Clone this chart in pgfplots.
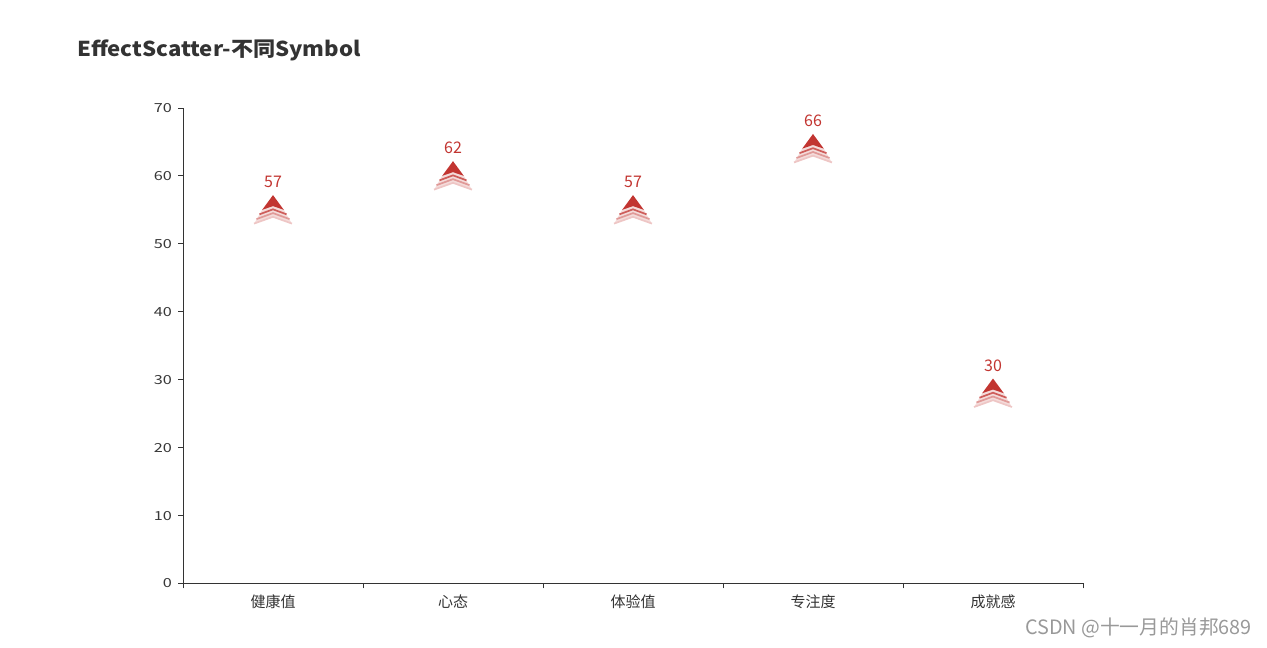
\documentclass[border=0pt]{standalone}
\usepackage{fontspec}
\setmainfont{Noto Sans CJK SC}
\newfontfamily\tickfont[FakeStretch=1.3]{Noto Sans CJK SC}
\newfontfamily\titlefont[FakeStretch=1.08]{Noto Sans CJK SC}
\usepackage{pgfplots}
\pgfplotsset{compat=1.18}
\definecolor{ecred}{HTML}{C23531}
\definecolor{axisgray}{HTML}{333333}

\pgfdeclareplotmark{echarrow}{%
  \pgfsetfillcolor{ecred!18}%
  \pgfpathmoveto{\pgfqpoint{-10.5pt}{-13pt}}%
  \pgfpathlineto{\pgfqpoint{0pt}{-9.5pt}}%
  \pgfpathlineto{\pgfqpoint{10.5pt}{-13pt}}%
  \pgfpathlineto{\pgfqpoint{19pt}{-27.5pt}}%
  \pgfpathlineto{\pgfqpoint{0pt}{-20.5pt}}%
  \pgfpathlineto{\pgfqpoint{-19pt}{-27.5pt}}%
  \pgfpathclose
  \pgfusepath{fill}%
  \pgfsetlinewidth{1.7pt}%
  \pgfsetmiterjoin
  \pgfsetstrokecolor{ecred!28}%
  \pgfpathmoveto{\pgfqpoint{-19pt}{-27.3pt}}%
  \pgfpathlineto{\pgfqpoint{0pt}{-20.5pt}}%
  \pgfpathlineto{\pgfqpoint{19pt}{-27.3pt}}%
  \pgfusepath{stroke}%
  \pgfsetstrokecolor{ecred!50}%
  \pgfpathmoveto{\pgfqpoint{-16.5pt}{-22.8pt}}%
  \pgfpathlineto{\pgfqpoint{0pt}{-16.8pt}}%
  \pgfpathlineto{\pgfqpoint{16.5pt}{-22.8pt}}%
  \pgfusepath{stroke}%
  \pgfsetstrokecolor{ecred!80}%
  \pgfpathmoveto{\pgfqpoint{-13.5pt}{-18pt}}%
  \pgfpathlineto{\pgfqpoint{0pt}{-13pt}}%
  \pgfpathlineto{\pgfqpoint{13.5pt}{-18pt}}%
  \pgfusepath{stroke}%
  \pgfsetfillcolor{ecred}%
  \pgfpathmoveto{\pgfqpoint{0pt}{1.2pt}}%
  \pgfpathlineto{\pgfqpoint{10.8pt}{-13.5pt}}%
  \pgfpathlineto{\pgfqpoint{0pt}{-9.8pt}}%
  \pgfpathlineto{\pgfqpoint{-10.8pt}{-13.5pt}}%
  \pgfpathclose
  \pgfusepath{fill}%
}

\begin{document}
\begin{tikzpicture}
\path[use as bounding box] (0,0) rectangle (1267pt,648pt);
\node[anchor=base west, inner sep=0pt, font=\titlefont\bfseries\fontsize{20.5}{23}\selectfont, text=axisgray] at (77pt,591.5pt) {EffectScatter-不同Symbol};
\node[anchor=center, inner sep=0pt, font=\fontsize{19.8}{22}\selectfont, text=black!40] at (1138.5pt,20pt) {CSDN @十一月的肖邦689};
\begin{axis}[
  at={(183pt,64.5pt)}, anchor=south west,
  scale only axis, width=900pt, height=475.5pt,
  xmin=0, xmax=5, ymin=0, ymax=70,
  axis x line=bottom, axis y line=left,
  axis line style={-, draw=axisgray, line width=1pt},
  xtick={0,1,2,3,4,5}, xticklabels={},
  ytick={0,10,...,70},
  tick align=outside, major tick length=5pt,
  tick style={draw=axisgray, line width=1pt},
  extra x ticks={0.5,1.5,2.5,3.5,4.5},
  extra x tick labels={健康值,心态,体验值,专注度,成就感},
  extra x tick style={major tick length=0pt,
    xticklabel style={font=\fontsize{15}{17}\selectfont, text=black!80, anchor=north, inner sep=0pt, yshift=-11pt}},
  /pgf/number format/assume math mode=true,
  yticklabel style={font=\tickfont\fontsize{12.5}{14}\selectfont, text=black!78, anchor=east, inner sep=0pt, xshift=-6pt},
  clip=false,
]
\addplot[only marks, mark=echarrow,
  nodes near coords,
  nodes near coords style={font=\fontsize{16}{18}\selectfont, text=ecred, inner sep=0pt, yshift=7.5pt}]
  coordinates {(0.5,57) (1.5,62) (2.5,57) (3.5,66) (4.5,30)};
\end{axis}
\end{tikzpicture}
\end{document}
